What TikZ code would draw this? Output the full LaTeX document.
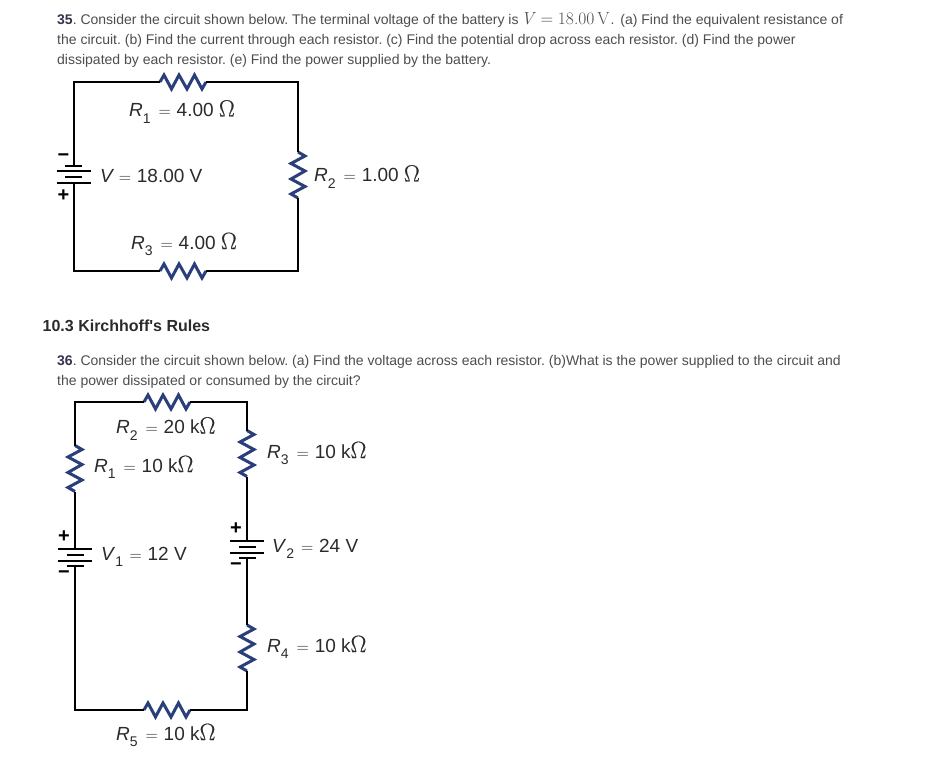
\documentclass[tikz,border=0pt]{standalone}
\usepackage[no-math]{fontspec}
\setmainfont{Liberation Sans}
\newfontfamily\lmr{Latin Modern Roman}
\newfontfamily\lmrheavy[FakeBold=0.5]{Latin Modern Roman}
\newfontfamily\plainsans{Liberation Sans}
\usetikzlibrary{calc}
\definecolor{bodytext}{HTML}{4D4D4D}
\definecolor{labeltext}{HTML}{2B2B2B}
\definecolor{numcol}{HTML}{33334D}
\definecolor{rescol}{HTML}{2A3F7A}
\newcommand{\sbs}[1]{\raisebox{-0.36em}{\fontsize{14}{14}\selectfont #1}}
\newcommand{\lsym}[2]{\textit{#1}\sbs{#2}\hspace{3.5pt}}
\newcommand{\eqs}{\hspace{4.5pt}{\lmr\fontsize{17}{17}\selectfont =}\hspace{5.8pt}}
\newcommand{\ohm}{{\lmrheavy\fontsize{23.5}{20}\selectfont Ω}}
\newcommand{\inlinev}{{\lmr\fontsize{17.5}{16}\selectfont\hspace{-1.5pt}\textit{V}\hspace{4.7pt}=\hspace{4.7pt}18.00\hspace{3pt}V\hspace{1pt}}}
\tikzset{
  x=1pt,y=-1pt,
  wire/.style={draw=black,line width=2pt,line cap=butt,line join=miter},
  plate/.style={draw=black,line width=2pt},
  zig/.style={draw=rescol,line width=3pt,line join=miter},
  para/.style={anchor=base west,inner sep=0pt,text=bodytext,font=\frenchspacing\fontsize{14}{16}\selectfont},
  head/.style={anchor=base west,inner sep=0pt,text=labeltext,font=\bfseries\fontsize{16}{18}\selectfont},
  lab/.style={anchor=base west,inner sep=0pt,text=labeltext,font=\fontsize{19}{20}\selectfont},
  pol/.style={anchor=center,inner sep=0pt,text=black,font=\bfseries\fontsize{20}{20}\selectfont},
  pics/resistor/.style={code={
    \draw[zig] (-23,0)--(-19,-7)--(-11.5,7)--(-4,-7)--(4,7)--(11.5,-7)--(19,7)--(23,0);
  }},
  pics/shortfirst/.style={code={
    \draw[plate] (-8.5,-8.5)--(8.5,-8.5);
    \draw[plate] (-17,-3)--(17,-3);
    \draw[plate] (-8.5,3)--(8.5,3);
    \draw[plate] (-17,8.5)--(17,8.5);
  }},
  pics/longfirst/.style={code={
    \draw[plate] (-17,-8.5)--(17,-8.5);
    \draw[plate] (-8.5,-3)--(8.5,-3);
    \draw[plate] (-17,3)--(17,3);
    \draw[plate] (-8.5,8.5)--(8.5,8.5);
  }}
}
\begin{document}
\begin{tikzpicture}
\useasboundingbox (0,0) rectangle (932,765);
\fill[white] (0,0) rectangle (932,765);

% Text
\node[para] (t1) at (57,25) {\textbf{\textcolor{numcol}{35}}. Consider the circuit shown below. The terminal voltage of the battery is \inlinev.\hspace{2pt} (a) Find the equivalent resistance of};
\node[para] (t2) at (57,45) {the circuit. (b) Find the current through each resistor. (c) Find the potential drop across each resistor. (d) Find the power};
\node[para] (t3) at (57,65) {dissipated by each resistor. (e) Find the power supplied by the battery.};
\node[head] (h1) at (42.5,331) {10.3 Kirchhoff{\plainsans\bfseries '}s Rules};
\node[para] (t4) at (57,365) {\textbf{\textcolor{numcol}{36}}. Consider the circuit shown below. (a) Find the voltage across each resistor. (b)What is the power supplied to the circuit and};
\node[para] (t5) at (57,385) {the power dissipated or consumed by the circuit?};

% Circuit 35
\coordinate (atl) at (73.5,82);
\coordinate (atr) at (298,82);
\coordinate (abl) at (73.5,271);
\coordinate (abr) at (298,271);
\coordinate (ar1) at (183,82);
\coordinate (ar2) at (298,175);
\coordinate (ar3) at (183,271);
\coordinate (abat) at (73.5,174.5);
\pic at (ar1) {resistor};
\pic[rotate=90] at (ar2) {resistor};
\pic at (ar3) {resistor};
\pic at (abat) {shortfirst};
\draw[wire] ($(ar1)+(-23,0)$) -- (atl) -- ($(abat)+(0,-8.5)$);
\draw[wire] ($(ar1)+(23,0)$) -- (atr) -- ($(ar2)+(0,-23)$);
\draw[wire] ($(ar2)+(0,23)$) -- (abr) -- ($(ar3)+(23,0)$);
\draw[wire] ($(ar3)+(-23,0)$) -- (abl) -- ($(abat)+(0,8.5)$);
\node[pol] (am) at (63.5,158) {\textminus};
\node[pol] (ap) at (63.5,196) {+};
\node[lab] (al1) at (129,116.5) {\lsym{R}{1}\eqs 4.00 \ohm};
\node[lab] (al2) at (100,182.5) {\textit{V}\eqs 18.00 V};
\node[lab] (al3) at (314,181.5) {\lsym{R}{2}\eqs 1.00 \ohm};
\node[lab] (al4) at (131,249) {\lsym{R}{3}\eqs 4.00 \ohm};

% Circuit 36
\coordinate (btl) at (75,402);
\coordinate (btr) at (247,402);
\coordinate (bbl) at (75,710);
\coordinate (bbr) at (247,710);
\coordinate (br1) at (75,468.5);
\coordinate (br2) at (167,402);
\coordinate (br3) at (247,453.5);
\coordinate (br4) at (247,648);
\coordinate (br5) at (167,710);
\coordinate (bv1) at (75,557.5);
\coordinate (bv2) at (247,549.5);
\pic[rotate=90] at (br1) {resistor};
\pic at (br2) {resistor};
\pic[rotate=90] at (br3) {resistor};
\pic[rotate=90] at (br4) {resistor};
\pic at (br5) {resistor};
\pic at (bv1) {longfirst};
\pic at (bv2) {longfirst};
\draw[wire] ($(br1)+(0,-23)$) -- (btl) -- ($(br2)+(-23,0)$);
\draw[wire] ($(br2)+(23,0)$) -- (btr) -- ($(br3)+(0,-23)$);
\draw[wire] ($(br3)+(0,23)$) -- ($(bv2)+(0,-8.5)$);
\draw[wire] ($(bv2)+(0,8.5)$) -- ($(br4)+(0,-23)$);
\draw[wire] ($(br4)+(0,23)$) -- (bbr) -- ($(br5)+(23,0)$);
\draw[wire] ($(br5)+(-23,0)$) -- (bbl) -- ($(bv1)+(0,8.5)$);
\draw[wire] ($(bv1)+(0,-8.5)$) -- ($(br1)+(0,23)$);
\node[pol] (bp1) at (64,537) {+};
\node[pol] (bm1) at (64,575) {\textminus};
\node[pol] (bp2) at (236,529) {+};
\node[pol] (bm2) at (236,567) {\textminus};
\node[lab] (bl2) at (116,433.5) {\lsym{R}{2}\eqs 20 k\ohm};
\node[lab] (bl1) at (94,472) {\lsym{R}{1}\eqs 10 k\ohm};
\node[lab] (bl3) at (267,458) {\lsym{R}{3}\eqs 10 k\ohm};
\node[lab] (blv1) at (101,560) {\lsym{V}{1}\hspace{-1.5pt}\eqs 12 V};
\node[lab] (blv2) at (272,552) {\lsym{V}{2}\hspace{-1pt}\eqs 24 V};
\node[lab] (bl4) at (267,652) {\lsym{R}{4}\eqs 10 k\ohm};
\node[lab] (bl5) at (116,740) {\lsym{R}{5}\eqs 10 k\ohm};
\end{tikzpicture}
\end{document}
